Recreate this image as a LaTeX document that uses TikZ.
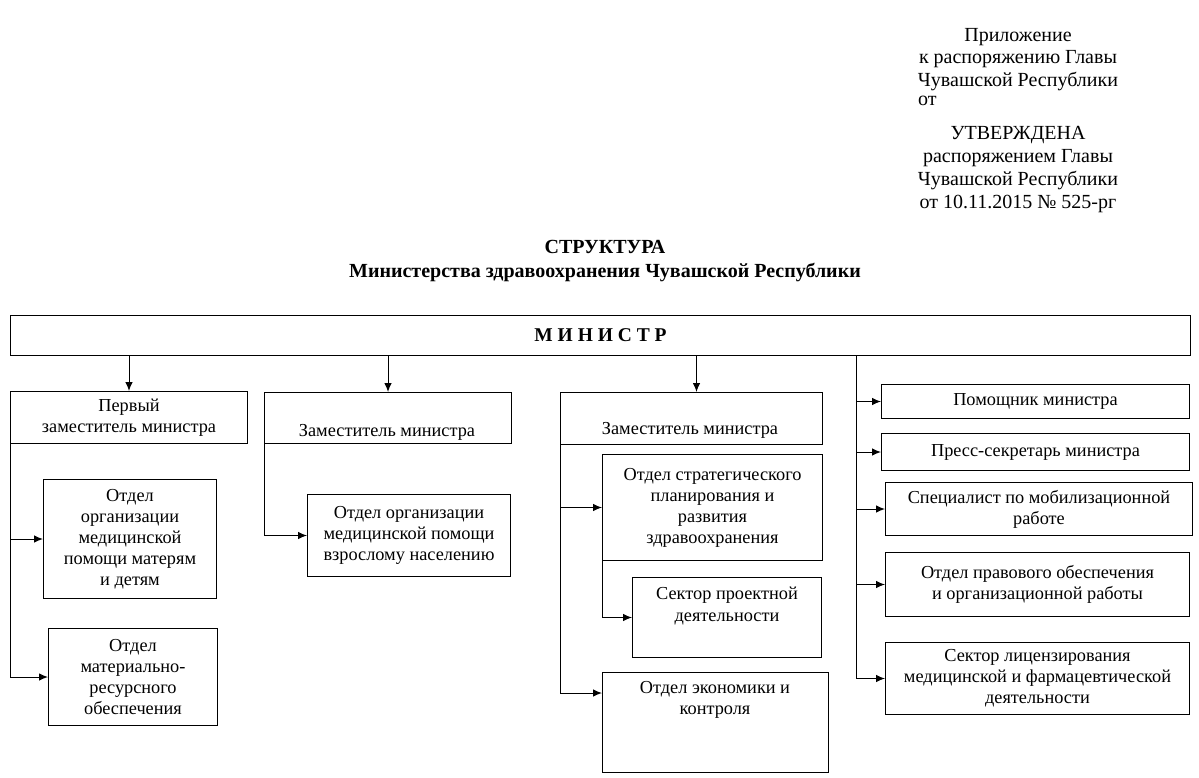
\documentclass[tikz,border=0pt]{standalone}
\usepackage{fontspec}
\setmainfont{Liberation Serif}
\usetikzlibrary{arrows.meta,positioning}

\tikzset{
  box/.style={draw, line width=1pt, anchor=north west, align=center, inner sep=2pt},
  txt/.style={align=center, inner sep=0pt},
  arr/.style={line width=1pt, -{Latex[length=9pt,width=7.5pt]}},
  line/.style={line width=1pt}
}

\begin{document}
\begin{tikzpicture}[x=1pt, y=-1pt, font=\fontsize{18.3}{21}\selectfont]
\useasboundingbox (0,0) rectangle (1199,778);
\node[txt, anchor=north, font=\fontsize{20}{22.5}\selectfont] (pril) at (1018,28) {Приложение\\к распоряжению Главы\\Чувашской Республики};
\node[txt, anchor=base west, font=\fontsize{20}{22.5}\selectfont] (ot) at (918,106) {от};
\node[txt, anchor=north, font=\fontsize{20}{23}\selectfont] (utv) at (1018,126) {УТВЕРЖДЕНА\\распоряжением Главы\\Чувашской Республики\\от 10.11.2015 № 525-рг};
\node[txt, anchor=north, font=\bfseries\fontsize{20}{24}\selectfont] (title) at (605,240) {СТРУКТУРА\\Министерства здравоохранения Чувашской Республики};

\node[box, minimum width=1180, minimum height=40, font=\bfseries\fontsize{19.5}{21}\selectfont] (min) at (10,315) {М И Н И С Т Р};
\node[box, minimum width=237, minimum height=52] (zam1) at (10,391) {Первый\\заместитель министра};
\node[box, minimum width=247, minimum height=51] (zam2) at (264,392) {};
\node[txt] (zam2-t) at (387,432) {Заместитель министра};
\node[box, minimum width=262, minimum height=52] (zam3) at (560,392) {};
\node[txt] (zam3-t) at (690,430) {Заместитель министра};

\node[box, minimum width=173, minimum height=119] (mch) at (43,479) {Отдел\\организации\\медицинской\\помощи матерям\\и детям};
\node[box, minimum width=169, minimum height=97] (mat) at (48,628) {Отдел\\материально-\\ресурсного\\обеспечения};
\node[box, minimum width=203, minimum height=82] (vzr) at (307,494) {Отдел организации\\медицинской помощи\\взрослому населению};
\node[box, minimum width=220, minimum height=106] (strat) at (602,454) {Отдел стратегического\\планирования и\\развития\\здравоохранения};
\node[box, minimum width=189, minimum height=80] (proekt) at (632,577) {};
\node[txt] (proekt-t) at (727,606) {Сектор проектной\\деятельности};
\node[box, minimum width=226, minimum height=100] (econ) at (602,672) {};
\node[txt] (econ-t) at (715,700) {Отдел экономики и\\контроля};

\node[box, minimum width=308, minimum height=34] (pom) at (881,384) {Помощник министра};
\node[box, minimum width=308, minimum height=37] (press) at (881,433) {Пресс-секретарь министра};
\node[box, minimum width=307, minimum height=53] (mob) at (885,482) {Специалист по мобилизационной\\работе};
\node[box, minimum width=304, minimum height=64] (prav) at (885,552) {Отдел правового обеспечения\\и организационной работы};
\node[box, minimum width=304, minimum height=72] (lic) at (885,642) {Сектор лицензирования\\медицинской и фармацевтической\\деятельности};

\draw[arr] (zam1.north |- min.south) -- (zam1.north);
\draw[arr] (zam2.north |- min.south) -- (zam2.north);
\draw[arr] ([xshift=5]zam3.north |- min.south) -- ([xshift=5]zam3.north);

\draw[arr] (zam1.south west) |- (mat.west);
\draw[arr] (zam1.south west |- mch.west) -- (mch.west);
\draw[arr] (zam2.south west) |- (vzr.west);
\draw[arr] (zam3.south west) |- ([yshift=-21]econ.north west);
\draw[arr] (zam3.south west |- strat.west) -- (strat.west);
\draw[arr] (strat.south west) |- (proekt.west);

\coordinate (rtop) at (856,355);
\coordinate (rbot) at (856,678);
\draw[line] (rtop) -- (rbot);
\draw[arr] (rtop |- pom.west) -- (pom.west);
\draw[arr] (rtop |- press.west) -- (press.west);
\draw[arr] (rtop |- mob.west) -- (mob.west);
\draw[arr] (rtop |- prav.west) -- (prav.west);
\draw[arr] (rtop |- lic.west) -- (lic.west);
\end{tikzpicture}
\end{document}
